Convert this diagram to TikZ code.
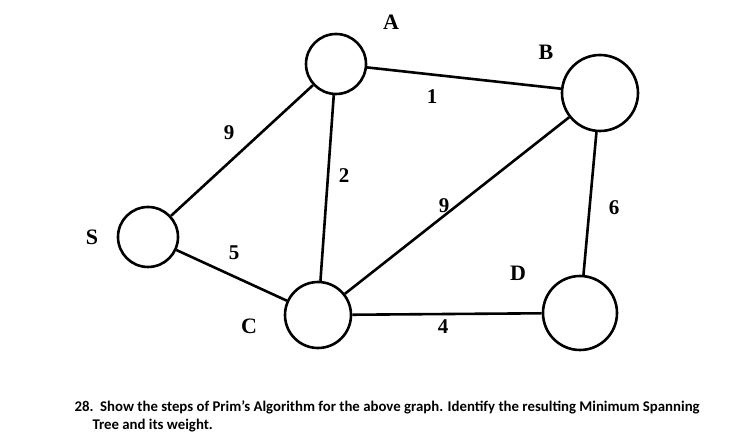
\documentclass[tikz,border=0pt]{standalone}
\usepackage{fontspec}
\setmainfont{Liberation Serif}
\newfontfamily\capfont{Carlito}
\begin{document}
\begin{tikzpicture}[x=1pt,y=-1pt,
  vert/.style={circle,draw,line width=2.6pt,inner sep=0pt},
  edge/.style={line width=2.6pt},
  lab/.style={font=\fontsize{22}{22}\selectfont\bfseries},
  wt/.style={font=\fontsize{21}{21}\selectfont\bfseries}]
\useasboundingbox (0,0) rectangle (729,443);
\node[vert,minimum size=60pt] (S) at (148,237) {};
\node[vert,minimum size=60pt] (A) at (336,64) {};
\node[vert,minimum size=76pt] (B) at (600,93) {};
\node[vert,minimum size=66pt] (C) at (318,315) {};
\node[vert,minimum size=74pt] (D) at (580,313) {};
\draw[edge] (S) -- (A);
\draw[edge] (S) -- (C);
\draw[edge] (A) -- (B);
\draw[edge] (A) -- (C);
\draw[edge] (C) -- (B);
\draw[edge] (C) -- (D);
\draw[edge] (B) -- (D);
\node[lab] (lA) at (391,22) {A};
\node[lab] (lB) at (546,52) {B};
\node[lab] (lS) at (92,237) {S};
\node[lab] (lC) at (249,326) {C};
\node[lab] (lD) at (518,273) {D};
\node[wt] (w1) at (229,133) {9};
\node[wt] (w2) at (432,97) {1};
\node[wt] (w3) at (344,176) {2};
\node[wt] (w4) at (444,206) {9};
\node[wt] (w5) at (614,208) {6};
\node[wt] (w6) at (234,253) {5};
\node[wt] (w7) at (443,327) {4};
\node[anchor=west,font=\capfont\fontsize{14.8}{18}\selectfont\bfseries,align=left] (cap) at (71,416)
 {28.\ \ Show the steps of Prim’s Algorithm for the above graph. Identify the resulting Minimum Spanning\\
 \hspace*{18pt}Tree and its weight.};
\end{tikzpicture}
\end{document}
